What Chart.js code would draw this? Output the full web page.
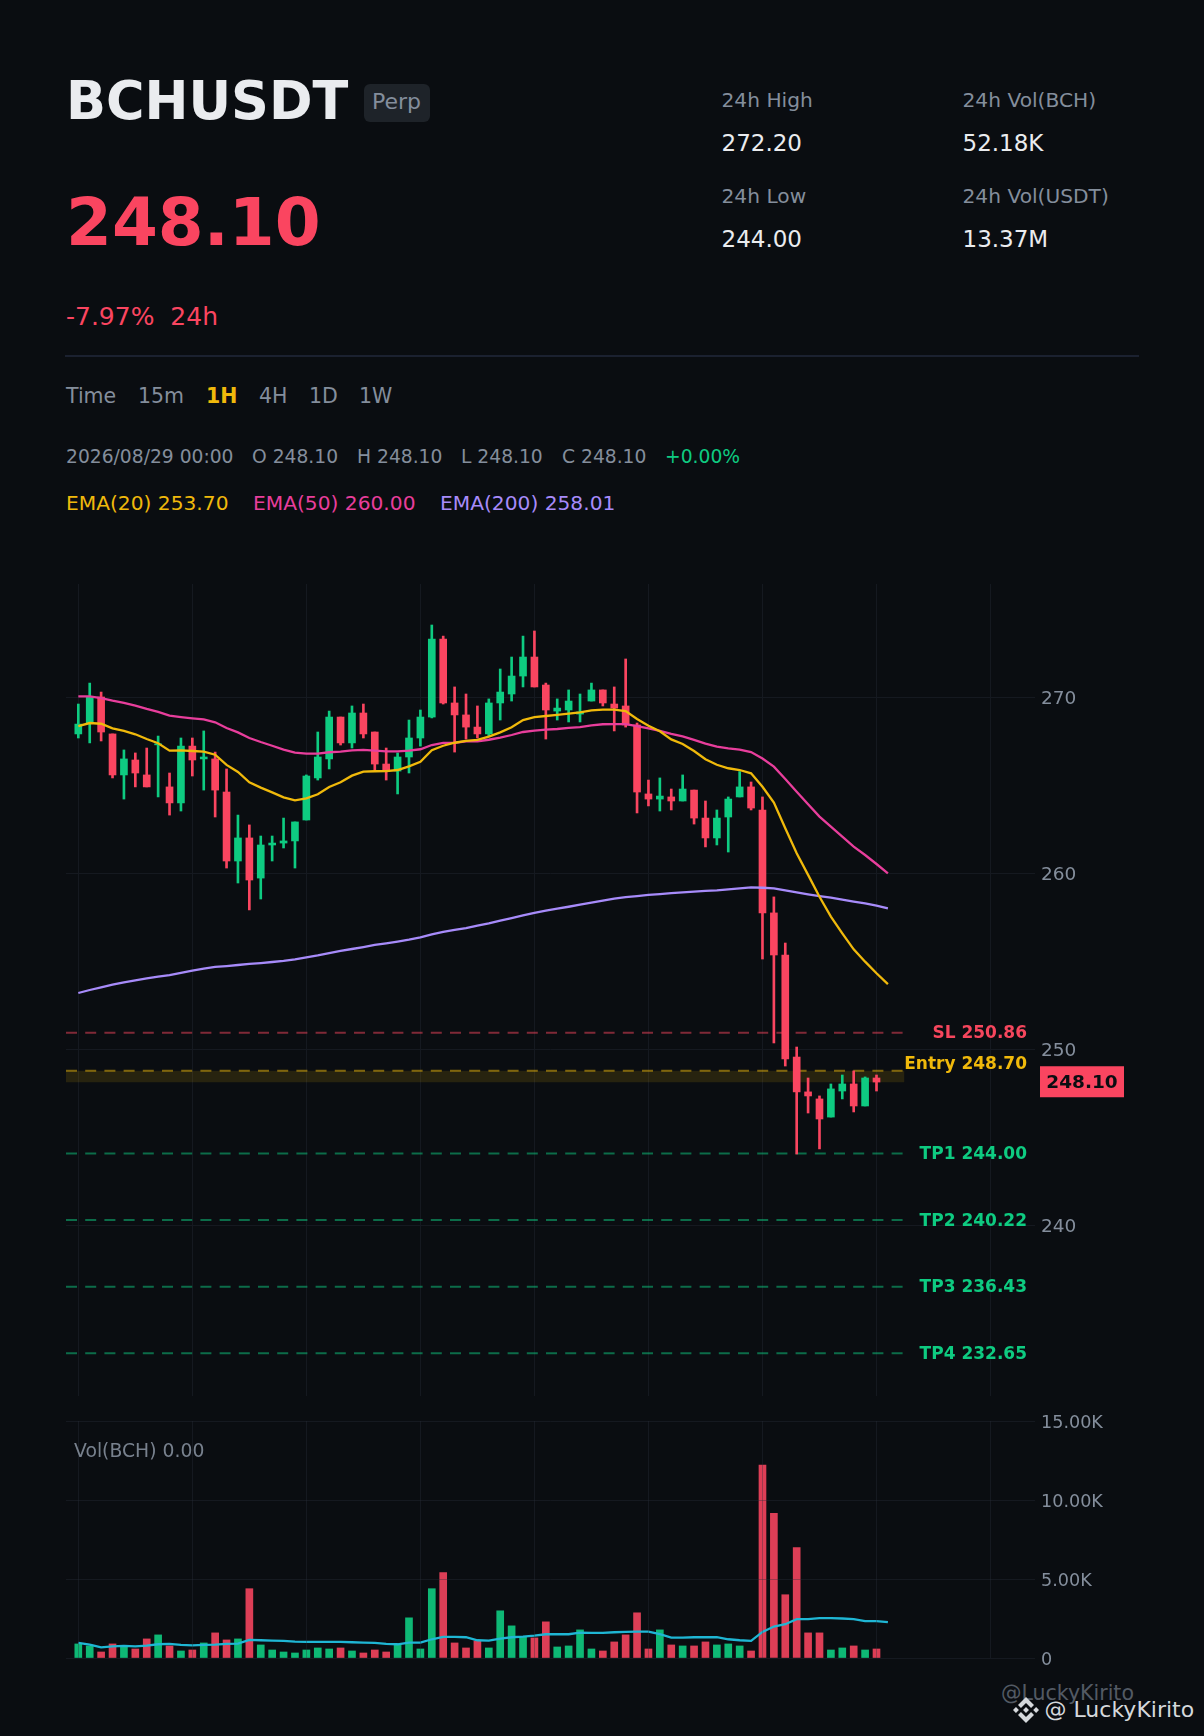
<!DOCTYPE html>
<html>
<head>
<meta charset="utf-8">
<title>BCHUSDT</title>
<style>
  html, body { margin: 0; padding: 0; background: #0a0d11; }
  body { position: relative; width: 1204px; height: 1736px; overflow: hidden; font-family: 'DejaVu Sans', sans-serif; }
  .t { position: absolute; white-space: pre; line-height: 1; }
  .gray { color: #848e9c; }
  canvas { position: absolute; display: block; }
  #sep { position: absolute; left: 65px; top: 355px; width: 1074px; height: 2px; background: #1b2130; }
  #badge { position: absolute; left: 364px; top: 84px; width: 66px; height: 38px; border-radius: 6px; background: #1e2329; }
  #logo { position: absolute; left: 1013px; top: 1697px; width: 26px; height: 26px; fill: #d5d8dc; }
</style>
</head>
<body>
  <div class="t" style="left:66px;top:75px;font-size:52.5px;font-weight:bold;color:#eaecef">BCHUSDT</div>
  <div id="badge"></div>
  <div class="t gray" style="left:372px;top:91px;font-size:22px">Perp</div>
  <div class="t" style="left:66px;top:190px;font-size:66px;font-weight:bold;color:#fa4560">248.10</div>
  <div class="t" style="left:66px;top:304px;font-size:25px;color:#fa4560">-7.97%  24h</div>

  <div class="t gray" style="left:721.5px;top:90px;font-size:20.2px">24h High</div>
  <div class="t" style="left:721.5px;top:132px;font-size:23px;color:#eaecef">272.20</div>
  <div class="t gray" style="left:721.5px;top:186px;font-size:20.2px">24h Low</div>
  <div class="t" style="left:721.5px;top:228px;font-size:23px;color:#eaecef">244.00</div>
  <div class="t gray" style="left:962.5px;top:90px;font-size:20.2px">24h Vol(BCH)</div>
  <div class="t" style="left:962.5px;top:132px;font-size:23px;color:#eaecef">52.18K</div>
  <div class="t gray" style="left:962.5px;top:186px;font-size:20.2px">24h Vol(USDT)</div>
  <div class="t" style="left:962.5px;top:228px;font-size:23px;color:#eaecef">13.37M</div>
  <div id="sep"></div>

  <div class="t gray" style="left:66px;top:386px;font-size:20.5px">Time</div>
  <div class="t gray" style="left:138px;top:386px;font-size:20.5px">15m</div>
  <div class="t" style="left:206px;top:386px;font-size:20.5px;font-weight:bold;color:#f0b90b">1H</div>
  <div class="t gray" style="left:259px;top:386px;font-size:20.5px">4H</div>
  <div class="t gray" style="left:309px;top:386px;font-size:20.5px">1D</div>
  <div class="t gray" style="left:359px;top:386px;font-size:20.5px">1W</div>

  <div class="t gray" style="left:66px;top:447.5px;font-size:18.7px">2026/08/29 00:00</div>
  <div class="t gray" style="left:252px;top:447.5px;font-size:18.7px">O 248.10</div>
  <div class="t gray" style="left:357px;top:447.5px;font-size:18.7px">H 248.10</div>
  <div class="t gray" style="left:461px;top:447.5px;font-size:18.7px">L 248.10</div>
  <div class="t gray" style="left:562px;top:447.5px;font-size:18.7px">C 248.10</div>
  <div class="t" style="left:665px;top:447.5px;font-size:18.7px;color:#0ecb81">+0.00%</div>

  <div class="t" style="left:66px;top:493px;font-size:20.2px;color:#f0b90b">EMA(20) 253.70</div>
  <div class="t" style="left:253px;top:493px;font-size:20.2px;color:#e83e9c">EMA(50) 260.00</div>
  <div class="t" style="left:440px;top:493px;font-size:20.2px;color:#a78bfa">EMA(200) 258.01</div>

  <canvas id="price" width="1138" height="812" style="left:66px;top:584px"></canvas>
  <canvas id="volume" width="1138" height="261" style="left:66px;top:1409px"></canvas>
  <div class="t" style="left:74px;top:1442px;font-size:18.8px;color:#848e9c;opacity:.9">Vol(BCH) 0.00</div>

  <div class="t" style="left:1001px;top:1683px;font-size:20.5px;color:#848e9c;opacity:.6">@LuckyKirito</div>
  <svg id="logo" viewBox="0 0 126.61 126.61"><path d="M38.73 53.2l24.59-24.58 24.6 24.6 14.3-14.31L63.32 0 24.42 38.9l14.31 14.3zM0 63.31l14.31-14.31 14.31 14.31-14.31 14.31zM38.73 73.41l24.59 24.59 24.6-24.6 14.31 14.29-38.9 38.91-38.91-38.88-.02-.02 14.33-14.29zM98.28 63.31l14.31-14.31 14.31 14.31-14.31 14.31zM77.83 63.3L63.32 48.78 52.59 59.51l-1.24 1.23-2.54 2.54 14.51 14.5 14.51-14.47z"/></svg>
  <div class="t" style="left:1044.5px;top:1699px;font-size:22px;color:#d5d8dc">@ LuckyKirito</div>

<script src="https://cdn.jsdelivr.net/npm/chart.js@4"></script>
<script>
// one entry per hourly candle
const opens = [267.92,268.54,270.02,267.92,265.59,266.44,265.59,267.30,264.91,264.00,267.23,266.50,266.50,264.62,260.70,262.01,259.73,261.61,261.72,261.84,263.03,265.42,266.50,268.88,267.41,269.11,268.03,266.21,265.81,266.61,267.69,268.88,273.31,269.68,269.00,268.31,267.92,269.68,270.19,271.21,272.29,270.70,269.22,269.28,269.05,269.79,270.42,269.62,269.51,268.43,264.51,264.22,264.34,264.11,264.73,263.14,262.01,263.20,264.34,264.91,263.60,257.75,255.36,249.56,247.58,247.18,246.15,247.63,248.03,246.78,248.37,248.10];
const highs = [269.62,270.81,270.30,267.92,267.01,266.84,267.12,267.80,265.70,267.69,267.69,268.09,266.89,265.93,263.31,262.75,262.12,262.12,263.14,262.92,265.59,268.03,269.22,268.88,269.51,269.62,268.03,267.12,266.84,268.71,269.28,274.11,273.48,270.59,270.19,269.51,269.91,271.61,272.29,273.48,273.77,270.81,269.91,270.42,270.19,270.81,270.42,270.59,272.18,268.54,265.30,265.42,264.79,265.59,264.73,264.11,263.60,264.34,265.78,265.19,264.34,258.66,256.04,250.13,248.37,247.35,248.03,248.54,248.77,248.43,248.54,248.10];
const lows = [267.69,267.41,267.52,265.42,264.22,264.91,264.91,264.34,263.31,263.54,265.53,264.73,263.20,260.30,259.45,257.92,258.54,260.70,261.44,260.30,263.03,265.30,265.93,267.29,267.12,267.69,265.87,265.30,264.51,265.70,267.23,268.83,269.62,266.89,267.63,267.69,267.80,268.71,269.79,270.59,270.59,267.63,268.71,268.60,268.60,269.79,269.51,268.09,268.31,263.43,263.83,263.54,263.60,264.11,262.80,261.50,261.61,261.21,264.34,263.60,255.13,250.36,249.05,244.05,246.38,244.34,246.15,247.18,246.44,246.78,247.63,248.10];
const closes = [268.48,270.02,268.03,265.59,266.50,265.70,264.91,267.36,264.00,267.23,266.44,266.61,264.73,260.70,262.01,259.62,261.61,261.72,261.84,262.92,265.53,266.61,268.88,267.41,269.11,267.92,266.21,265.81,266.61,267.69,268.88,273.31,269.68,269.00,268.31,267.92,269.68,270.30,271.21,272.29,270.59,269.28,269.39,269.79,269.17,270.42,269.68,269.39,268.43,264.62,264.22,264.39,264.11,264.79,263.14,262.01,263.14,264.22,264.91,263.71,257.75,255.36,249.45,247.58,247.35,246.04,247.75,248.03,246.78,248.37,248.14,248.10];
const ema20 = [268.37,268.54,268.50,268.24,268.09,267.90,267.63,267.39,266.97,266.99,266.95,266.91,266.74,266.16,265.76,265.17,264.87,264.60,264.32,264.15,264.26,264.49,264.91,265.17,265.55,265.78,265.80,265.81,265.87,266.08,266.34,266.99,267.25,267.42,267.52,267.58,267.77,268.01,268.30,268.71,268.88,268.94,269.00,269.07,269.15,269.26,269.30,269.30,269.22,268.77,268.39,268.07,267.61,267.35,266.95,266.48,266.17,265.97,265.87,265.68,264.92,264.02,262.56,261.14,259.91,258.67,257.54,256.59,255.68,254.98,254.32,253.70];
const ema50 = [270.06,270.06,269.96,269.81,269.68,269.53,269.34,269.17,268.96,268.88,268.81,268.75,268.58,268.26,268.01,267.69,267.46,267.25,267.03,266.86,266.80,266.80,266.88,266.91,266.99,267.01,266.97,266.93,266.93,266.97,267.05,267.29,267.41,267.42,267.50,267.50,267.59,267.71,267.86,268.03,268.11,268.16,268.20,268.26,268.31,268.41,268.47,268.48,268.48,268.37,268.24,268.09,267.92,267.78,267.58,267.37,267.20,267.10,267.03,266.89,266.52,266.06,265.36,264.64,263.92,263.22,262.65,262.08,261.52,261.04,260.53,260.00];
const ema200 = [253.20,253.37,253.52,253.67,253.81,253.92,254.03,254.13,254.22,254.35,254.47,254.58,254.68,254.73,254.79,254.85,254.90,254.96,255.02,255.11,255.23,255.34,255.47,255.59,255.70,255.81,255.93,256.02,256.12,256.23,256.36,256.53,256.67,256.78,256.89,257.03,257.16,257.31,257.46,257.61,257.75,257.88,257.99,258.10,258.22,258.33,258.45,258.56,258.65,258.71,258.77,258.82,258.88,258.92,258.96,259.00,259.03,259.09,259.15,259.20,259.18,259.15,259.03,258.92,258.81,258.71,258.62,258.50,258.39,258.29,258.16,258.01];
const volumes = [890,763,381,890,763,572,1208,1462,763,445,508,953,1589,1144,1208,4386,826,508,381,318,508,636,572,636,445,318,508,381,890,2542,572,4386,5403,953,636,1081,636,2987,2034,1335,1271,2288,699,763,1780,572,445,1017,1462,2860,572,1780,826,763,763,1017,826,890,763,445,12203,9153,4004,6992,1589,1589,508,636,763,508,572,0];
const volumeMA = [953,847,678,742,763,742,784,869,890,826,805,826,847,890,911,1144,1123,1102,1081,1038,1017,1017,1017,1017,996,975,953,890,869,975,975,1186,1335,1335,1314,1123,1102,1229,1314,1356,1419,1504,1504,1504,1610,1589,1589,1631,1653,1674,1674,1504,1292,1292,1314,1314,1314,1186,1123,1081,1653,1992,2140,2458,2458,2521,2521,2500,2458,2331,2331,2267];

const levelNames = ['SL', 'Entry', 'TP1', 'TP2', 'TP3', 'TP4'];
const levelValues = [250.86, 248.70, 244.00, 240.22, 236.43, 232.65];
const levelColors = ['#f6465d', '#f0b90b', '#0ecb81', '#0ecb81', '#0ecb81', '#0ecb81'];
const lastPrice = 248.10;

const UP = '#0ecb81', DOWN = '#fa4560';
const isUp = opens.map((o, i) => closes[i] >= o);
// the still open candle is flat and has no volume, nothing to see there
const isFlat = opens.map((o, i) => highs[i] === lows[i]);
const candleColors = isUp.map((u, i) => isFlat[i] ? 'transparent' : u ? UP : DOWN);
const volColors = isUp.map((u, i) => isFlat[i] ? 'transparent' : u ? 'rgba(14,203,129,.9)' : 'rgba(250,69,96,.88)');
const xy = arr => arr.map((y, x) => ({ x, y }));
const xRange = { min: -1.08, max: 83.9 };  // the empty space to the right of the last candle
const levelEnd = 72.43;
const levelShift = -1.4;  // levels are drawn a touch above their price

function xAxis(gridColor, z) {
  return {
    type: 'linear', min: xRange.min, max: xRange.max, offset: false,
    border: { display: false },
    grid: { color: gridColor, drawTicks: false, offset: false, z },
    ticks: { display: false, stepSize: 10, includeBounds: false }
  };
}

// keep the plot area to the full canvas, labels are allowed to run over the edge
function fixAxis(axis) {
  axis.width = 169;
  axis.paddingTop = 0;
  axis.paddingBottom = 0;
}

Chart.defaults.font.family = "'DejaVu Sans', sans-serif";

const levelsPlugin = {
  id: 'levels',
  beforeDatasetsDraw(chart) {
    const { ctx, chartArea, scales } = chart;
    const right = scales.x.getPixelForValue(levelEnd);
    ctx.save();
    // entry zone between entry and last price
    const top = scales.y.getPixelForValue(levelValues[1]) + levelShift;
    const bot = scales.y.getPixelForValue(lastPrice) - 0.5;
    ctx.fillStyle = 'rgba(240,185,11,.13)';
    ctx.fillRect(chartArea.left, top, right - chartArea.left, bot - top);
    ctx.lineWidth = 2;
    ctx.setLineDash([11, 8.2]);
    ctx.globalAlpha = 0.5;
    levelValues.forEach((v, i) => {
      const y = scales.y.getPixelForValue(v) + levelShift;
      ctx.strokeStyle = levelColors[i];
      ctx.beginPath();
      ctx.moveTo(chartArea.left, y);
      ctx.lineTo(right, y);
      ctx.stroke();
    });
    ctx.restore();
  },
  afterDraw(chart) {
    const { ctx, chartArea, scales } = chart;
    ctx.save();
    ctx.font = "bold 17px 'DejaVu Sans'";
    ctx.textAlign = 'right';
    ctx.textBaseline = 'alphabetic';
    levelValues.forEach((v, i) => {
      // the entry label sits on top of its line, the others are centred on it
      const off = levelNames[i] === 'Entry' ? -3 : 4.2;
      ctx.fillStyle = levelColors[i];
      ctx.fillText(levelNames[i] + ' ' + v.toFixed(2), chartArea.right - 8, scales.y.getPixelForValue(v) + off);
    });
    const y = scales.y.getPixelForValue(lastPrice) - 1;
    ctx.fillStyle = DOWN;
    ctx.fillRect(chartArea.right + 5, y - 15.5, 84, 31);
    ctx.fillStyle = '#0a0d11';
    ctx.font = "bold 18.5px 'DejaVu Sans'";
    ctx.textAlign = 'center';
    ctx.textBaseline = 'middle';
    ctx.fillText(lastPrice.toFixed(2), chartArea.right + 47, y + 1);
    ctx.restore();
  }
};

new Chart(document.getElementById('price'), {
  type: 'bar',
  data: {
    datasets: [
      { data: highs.map((h, i) => ({ x: i, y: [lows[i], h] })), backgroundColor: candleColors, barThickness: 2, grouped: false, order: 6 },
      { data: opens.map((o, i) => ({ x: i, y: [o, closes[i]] })), backgroundColor: candleColors, barThickness: 7, grouped: false, order: 5 },
      { type: 'line', data: xy(ema200), borderColor: '#a78bfa', borderWidth: 2.3, pointRadius: 0, order: 3 },
      { type: 'line', data: xy(ema50), borderColor: '#e83e9c', borderWidth: 2.3, pointRadius: 0, order: 2 },
      { type: 'line', data: xy(ema20), borderColor: '#f0b90b', borderWidth: 2.3, pointRadius: 0, order: 1 }
    ]
  },
  options: {
    responsive: false,
    animation: false,
    layout: { padding: 0 },
    plugins: { legend: { display: false }, tooltip: { enabled: false } },
    scales: {
      x: xAxis('#151920'),
      y: {
        position: 'right', min: 230.3, max: 276.44,
        afterFit: fixAxis,
        border: { display: false },
        grid: { color: '#151920', drawTicks: false },
        ticks: { stepSize: 10, includeBounds: false, padding: 6, labelOffset: 1.5, color: '#848e9c', font: { size: 18.5 } }
      }
    }
  },
  plugins: [levelsPlugin]
});

new Chart(document.getElementById('volume'), {
  type: 'bar',
  data: {
    datasets: [
      { data: xy(volumes), backgroundColor: volColors, barThickness: 7, order: 2 },
      { type: 'line', data: xy(volumeMA), borderColor: '#1fb6d4', borderWidth: 2.3, pointRadius: 0, order: 1 }
    ]
  },
  options: {
    responsive: false,
    animation: false,
    layout: { padding: { top: 12, bottom: 12 } },
    plugins: { legend: { display: false }, tooltip: { enabled: false } },
    scales: {
      x: xAxis('rgba(44,50,60,.35)', 1),
      y: {
        position: 'right', min: 0, max: 15000,
        afterFit: fixAxis,
        border: { display: false },
        grid: { color: 'rgba(44,50,60,.35)', drawTicks: false, z: 1 },
        ticks: {
          stepSize: 5000, padding: 6, labelOffset: 2, color: '#848e9c', font: { size: 17.6 },
          callback: v => v === 0 ? '0' : (v / 1000).toFixed(2) + 'K'
        }
      }
    }
  }
});
</script>
</body>
</html>
